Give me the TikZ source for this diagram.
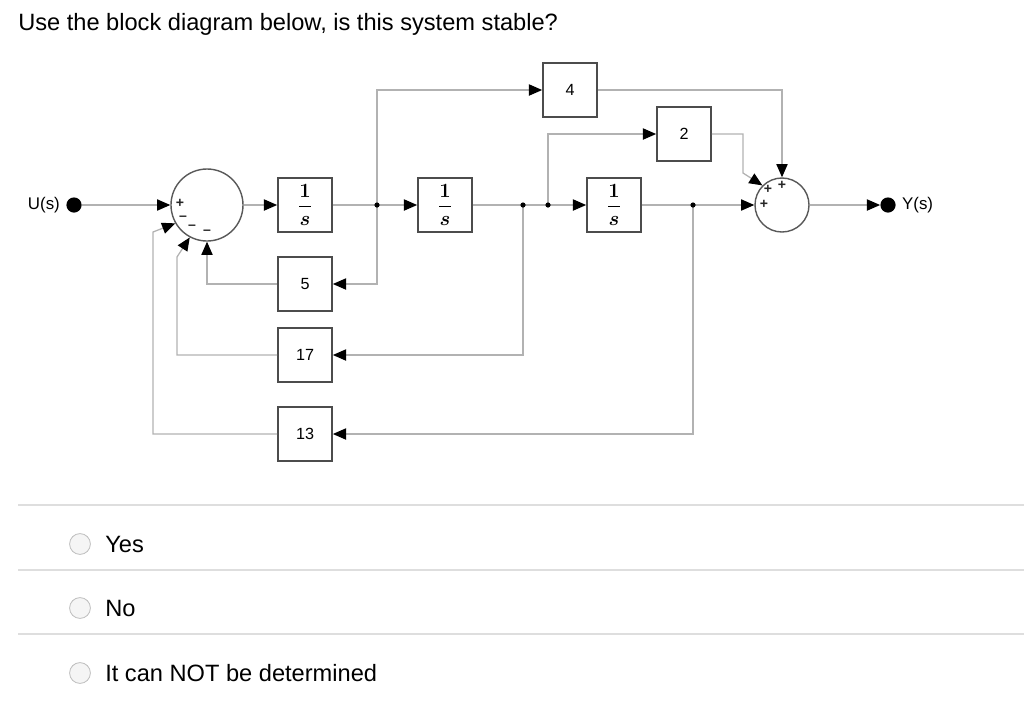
\documentclass[tikz,border=0pt]{standalone}
\usepackage{amsmath}
\usepackage[no-math]{fontspec}
\setmainfont{Liberation Sans}
\usetikzlibrary{arrows.meta,positioning}

\tikzset{
  gain/.style={draw=black!70, line width=1.2pt, fill=white, minimum width=1.35cm,
    minimum height=1.35cm, inner sep=0pt, font=\fontsize{11.5}{12}\selectfont},
  integ/.style={gain, font=\fontsize{15}{16}\selectfont},
  sumnode/.style={circle, draw=black!65, line width=1pt, fill=white, inner sep=0pt},
  wire/.style={draw=black!30, line width=0.9pt},
  tip/.style={-{Triangle[length=3.3mm,width=2.8mm,color=black]}},
  junc/.style={circle, fill=black, inner sep=0pt, minimum size=1.3mm},
  port/.style={circle, fill=black, inner sep=0pt, minimum size=3.8mm},
  sgn/.style={inner sep=0pt, text height=0.55em, text depth=0pt, text=black!85,
    font=\fontsize{10}{10}\selectfont\bfseries},
  sep/.style={draw=black!13, line width=1pt},
  radio/.style={circle, draw=black!25, fill=black!4, line width=0.6pt, minimum size=5.2mm, inner sep=0pt},
  answer/.style={anchor=west, inner sep=0pt, font=\fontsize{16.8}{20}\selectfont},
}
\newcommand{\oneovers}{$\dfrac{\mathbf{1}}{\boldsymbol{s}}$}

\begin{document}
\begin{tikzpicture}[x=0.025cm, y=-0.025cm] %%% one unit is one pixel of the reference
  \useasboundingbox (0,0) rectangle (1024,713);

  %%% question
  \node[anchor=base west, inner sep=0pt, font=\fontsize{16.8}{20}\selectfont] (question) at (18,30)
    {Use the block diagram below, is this system stable?};

  %%% forward path
  \node[port] (u) at (74,205) {};
  \node[left=1.5mm of u, inner sep=0pt, font=\fontsize{12}{12}\selectfont] (ulabel) {U(s)};
  \node[sumnode, minimum size=1.8cm] (sum1) at (207,205) {};
  \node[integ] (int1) at (305,205) {\oneovers};
  \node[integ] (int2) at (445,205) {\oneovers};
  \node[integ] (int3) at (614,205) {\oneovers};
  \node[sumnode, minimum size=1.35cm] (sum2) at (782,205) {};
  \node[port] (y) at (888,205) {};
  \node[right=1.5mm of y, inner sep=0pt, font=\fontsize{12}{12}\selectfont] (ylabel) {Y(s)};

  %%% gains
  \node[gain] (g4) at (570,90) {4};
  \node[gain] (g2) at (684,134) {2};
  \node[gain] (g5) at (305,284) {5};
  \node[gain] (g17) at (305,355) {17};
  \node[gain] (g13) at (305,434) {13};

  %%% branch points and bends
  \coordinate (j1) at (377,205);
  \coordinate (j2) at (523,205);
  \coordinate (j3) at (548,205);
  \coordinate (j4) at (693,205);
  \coordinate (k2) at (743,173);
  \coordinate (k17) at (177,257);
  \coordinate (k13) at (153,232);

  \draw[wire, tip] (u) -- (sum1);
  \draw[wire, tip] (sum1) -- (int1);
  \draw[wire] (int1) -- (j1);
  \draw[wire, tip] (j1) -- (int2);
  \draw[wire] (int2) -- (j3);
  \draw[wire, tip] (j3) -- (int3);
  \draw[wire] (int3) -- (j4);
  \draw[wire, tip] (j4) -- (sum2);
  \draw[wire, tip] (sum2) -- (y);

  %%% feedforward
  \draw[wire, tip] (j1) |- (g4);
  \draw[wire, tip] (g4) -| (sum2);
  \draw[wire, tip] (j3) |- (g2);
  \draw[wire, tip] (g2) -| (k2) -- (sum2.135);

  %%% feedback
  \draw[wire, tip] (j1) |- (g5);
  \draw[wire, tip] (g5) -| (sum1);
  \draw[wire, tip] (j2) |- (g17);
  \draw[wire, tip] (g17) -| (k17) -- (sum1.242);
  \draw[wire, tip] (j4) |- (g13);
  \draw[wire, tip] (g13) -| (k13) -- (sum1.210);

  \foreach \j in {j1,j2,j3,j4}
    \node[junc] at (\j) {};

  %%% signs
  \node[sgn] (s1a) at (180,204) {+};
  \node[sgn] (s1b) at (183,217) {--};
  \node[sgn] (s1c) at (192,226) {--};
  \node[sgn] (s1d) at (207,231) {--};
  \node[sgn] (s2a) at (768,190) {+};
  \node[sgn] (s2b) at (782,186) {+};
  \node[sgn] (s2c) at (764,205) {+};

  %%% answers
  \draw[sep] (18,505) -- (1024,505);
  \draw[sep] (18,570) -- (1024,570);
  \draw[sep] (18,634) -- (1024,634);
  \node[radio] (r1) at (80,544) {};
  \node[radio] (r2) at (80,608) {};
  \node[radio] (r3) at (80,673) {};
  \node[answer] (a1) at (105,544) {Yes};
  \node[answer] (a2) at (105,608) {No};
  \node[answer] (a3) at (105,673) {It can NOT be determined};
\end{tikzpicture}
\end{document}
